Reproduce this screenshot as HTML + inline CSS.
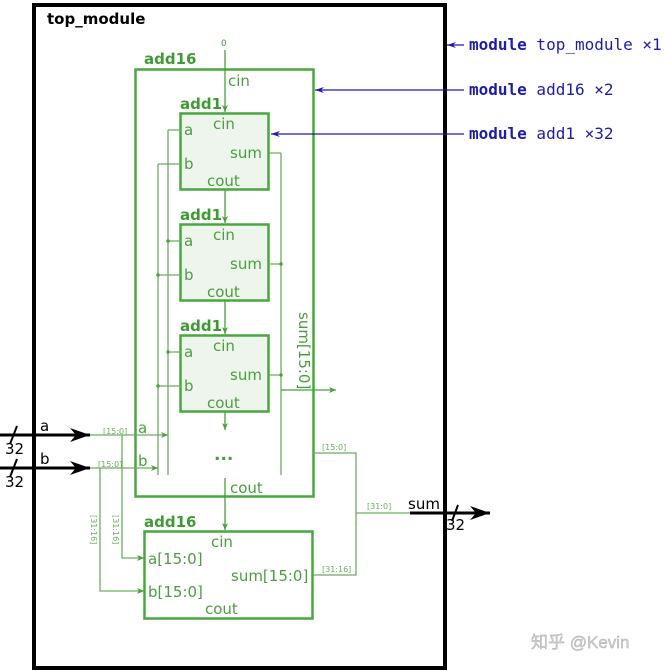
<!DOCTYPE html>
<html><head><meta charset="utf-8"><style>
html,body{margin:0;padding:0;background:#fff;width:665px;height:671px;overflow:hidden}
svg{display:block}
.g{fill:#4a9e3f;font-family:"DejaVu Sans","Liberation Sans",sans-serif}
.gb{fill:#3f9a34;font-family:"DejaVu Sans","Liberation Sans",sans-serif;font-weight:bold;font-size:15px}
.sm{fill:#6aae5f;font-family:"DejaVu Sans",sans-serif;font-size:8px}
.bl{fill:#1c1ca8;font-family:"DejaVu Sans Mono","Liberation Mono",monospace;font-size:16px}
</style></head><body>
<svg width="665" height="671" viewBox="0 0 665 671" xmlns="http://www.w3.org/2000/svg">
<defs>
<marker id="ga" markerWidth="8" markerHeight="8" refX="7" refY="3" orient="auto" markerUnits="userSpaceOnUse"><path d="M0,0 L7,3 L0,6 L2,3 z" fill="#4a9e3f"/></marker>
<marker id="ba" markerWidth="22" markerHeight="14" refX="20" refY="7" orient="auto" markerUnits="userSpaceOnUse"><path d="M0,0 L20,7 L0,14 L6,7 z" fill="#000"/></marker>
<marker id="bla" markerWidth="10" markerHeight="8" refX="9" refY="3" orient="auto" markerUnits="userSpaceOnUse"><path d="M0,0 L9,3 L0,6 L3,3 z" fill="#1c1ca8"/></marker>
</defs>
<rect x="34" y="5" width="411" height="663" fill="none" stroke="#000" stroke-width="4"/>
<text x="47" y="24" font-family="DejaVu Sans,sans-serif" font-weight="bold" font-size="15">top_module</text>

<rect x="135.5" y="69.5" width="178" height="427" fill="none" stroke="#4aa63f" stroke-width="2.5"/>
<text x="144" y="64" class="gb">add16</text>
<text x="221" y="46" class="g" font-size="9">0</text>
<line x1="225" y1="50" x2="225" y2="112" stroke="#4a9e3f" stroke-width="1.3" marker-end="url(#ga)"/>
<text x="228" y="86" class="g" font-size="15">cin</text>

<g stroke="#6aae5f" stroke-width="1.3" fill="none">
<path d="M158,164 V475"/><path d="M168,130 V475"/><path d="M281,153 V475"/>
</g>

<rect x="180.5" y="113.5" width="88" height="76" fill="#eef5ec" stroke="#4aa63f" stroke-width="2.5"/>
<rect x="180.5" y="224.5" width="88" height="76" fill="#eef5ec" stroke="#4aa63f" stroke-width="2.5"/>
<rect x="180.5" y="335.5" width="88" height="76" fill="#eef5ec" stroke="#4aa63f" stroke-width="2.5"/>
<text x="180" y="109" class="gb">add1</text>
<text x="180" y="220" class="gb">add1</text>
<text x="180" y="331" class="gb">add1</text>
<g class="g" font-size="15">
<text x="213" y="129">cin</text><text x="184" y="135">a</text><text x="184" y="169">b</text><text x="230" y="158">sum</text><text x="207" y="186">cout</text>
<text x="213" y="240">cin</text><text x="184" y="246">a</text><text x="184" y="280">b</text><text x="230" y="269">sum</text><text x="207" y="297">cout</text>
<text x="213" y="351">cin</text><text x="184" y="357">a</text><text x="184" y="391">b</text><text x="230" y="380">sum</text><text x="207" y="408">cout</text>
</g>
<g stroke="#6aae5f" stroke-width="1.3" fill="none">
<path d="M168,130 H181 M158,164 H181 M269,153 H281"/>
<path d="M168,241 H181 M158,275 H181 M269,264 H281"/>
<path d="M168,352 H181 M158,386 H181 M269,375 H281"/>
</g>
<g fill="#4a9e3f"><circle cx="168" cy="241" r="1.7"/><circle cx="158" cy="275" r="1.7"/><circle cx="281" cy="264" r="1.7"/><circle cx="168" cy="352" r="1.7"/><circle cx="158" cy="386" r="1.7"/><circle cx="281" cy="375" r="1.7"/></g>
<g stroke="#4a9e3f" stroke-width="1.3">
<line x1="225" y1="190" x2="225" y2="223" marker-end="url(#ga)"/>
<line x1="225" y1="301" x2="225" y2="334" marker-end="url(#ga)"/>
<line x1="225" y1="412" x2="225" y2="430" marker-end="url(#ga)"/>
<line x1="281" y1="390" x2="336" y2="390" marker-end="url(#ga)"/>
<line x1="225" y1="478" x2="225" y2="530" marker-end="url(#ga)"/>
</g>
<text class="g" font-size="15" transform="translate(299,312) rotate(90)">sum[15:0]</text>
<text x="214" y="460" class="g" font-size="17" font-weight="bold">...</text>
<text x="230" y="493" class="g" font-size="15">cout</text>

<g stroke="#000" stroke-width="3">
<line x1="0" y1="435" x2="90" y2="435" marker-end="url(#ba)"/>
<line x1="0" y1="468" x2="90" y2="468" marker-end="url(#ba)"/>
</g>
<g stroke="#000" stroke-width="2"><line x1="10" y1="444" x2="17" y2="426"/><line x1="10" y1="477" x2="17" y2="459"/></g>
<g font-family="DejaVu Sans,sans-serif" font-size="15">
<text x="40" y="431">a</text><text x="40" y="464">b</text><text x="5" y="454">32</text><text x="5" y="487">32</text>
</g>
<g stroke="#6aae5f" stroke-width="1.3" fill="none">
<line x1="90" y1="435" x2="168" y2="435" marker-end="url(#ga)"/>
<line x1="90" y1="468" x2="158" y2="468" marker-end="url(#ga)"/>
<path d="M122,435 V558 H144" marker-end="url(#ga)"/>
<path d="M100,468 V591 H144" marker-end="url(#ga)"/>
</g>
<text x="103" y="434" class="sm">[15:0]</text>
<text x="98" y="467" class="sm">[15:0]</text>
<text x="138" y="433" class="g" font-size="15">a</text>
<text x="138" y="466" class="g" font-size="15">b</text>
<text class="sm" transform="translate(91,515) rotate(90)">[31:16]</text>
<text class="sm" transform="translate(113,515) rotate(90)">[31:16]</text>

<rect x="144.5" y="531.5" width="168" height="87" fill="none" stroke="#4aa63f" stroke-width="2.5"/>
<text x="144" y="527" class="gb">add16</text>
<g class="g" font-size="15">
<text x="211" y="547">cin</text><text x="148" y="564">a[15:0]</text><text x="231" y="581">sum[15:0]</text><text x="148" y="597">b[15:0]</text><text x="205" y="614">cout</text>
</g>

<g stroke="#6aae5f" stroke-width="1.3" fill="none">
<path d="M313,453 H356 V575 H313"/><path d="M356,513 H410"/>
</g>
<text x="322" y="450" class="sm">[15:0]</text>
<text x="322" y="572" class="sm">[31:16]</text>
<text x="367" y="509" class="sm">[31:0]</text>
<line x1="410" y1="513" x2="490" y2="513" stroke="#000" stroke-width="3" marker-end="url(#ba)"/>
<line x1="452" y1="521" x2="458" y2="505" stroke="#000" stroke-width="2"/>
<text x="408" y="509" font-family="DejaVu Sans,sans-serif" font-size="15">sum</text>
<text x="446" y="530" font-family="DejaVu Sans,sans-serif" font-size="15">32</text>

<g stroke="#1c1ca8" stroke-width="1.3">
<line x1="464" y1="45" x2="447" y2="45" marker-end="url(#bla)"/>
<line x1="464" y1="90" x2="315" y2="90" marker-end="url(#bla)"/>
<line x1="464" y1="134" x2="271" y2="134" marker-end="url(#bla)"/>
</g>
<text x="469" y="50" class="bl"><tspan font-weight="bold">module</tspan> top_module ×1</text>
<text x="469" y="95" class="bl"><tspan font-weight="bold">module</tspan> add16 ×2</text>
<text x="469" y="139" class="bl"><tspan font-weight="bold">module</tspan> add1 ×32</text>

<text x="531" y="648" font-family="'Liberation Sans','Noto Sans CJK SC',sans-serif" font-size="17" fill="#d0d0d0" stroke="#aaa" stroke-width="0.4">知乎 @Kevin</text>
</svg>
</body></html>
